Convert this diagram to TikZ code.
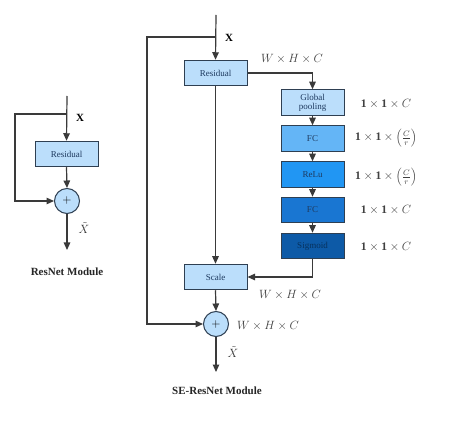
\documentclass[tikz,border=0pt]{standalone}
\usepackage{fontspec}
\setmainfont{Liberation Serif}
\usetikzlibrary{arrows.meta,positioning,calc}
\definecolor{lineC}{HTML}{3A3A3A}
\definecolor{boxD}{HTML}{2E3F52}
\definecolor{txtC}{HTML}{1E3A5F}
\definecolor{cA}{HTML}{BBDEFB}
\definecolor{cB}{HTML}{64B5F6}
\definecolor{cC}{HTML}{2196F3}
\definecolor{cD}{HTML}{1976D2}
\definecolor{cE}{HTML}{0D5AA7}
\tikzset{
  blk/.style={draw=boxD, line width=1pt, minimum width=63pt, minimum height=25.5pt, inner sep=1pt, font=\fontsize{9}{10}\selectfont, text=txtC, align=center},
  sumc/.style={circle, draw=boxD, line width=1pt, fill=cA, minimum size=25pt, inner sep=0pt, font=\fontsize{12}{12}\selectfont},
  conn/.style={draw=lineC, line width=1.2pt},
  arr/.style={conn, -{Triangle[length=7.5pt,width=6.5pt]}},
  dimlab/.style={font=\fontsize{11.5}{13}\selectfont, text=black!75, inner sep=1pt},
  xlab/.style={font=\fontsize{12.5}{13}\selectfont, text=black!80, inner sep=0.5pt},
  title/.style={font=\fontsize{11}{13}\selectfont\bfseries, text=black!85},
}
\begin{document}
\begin{tikzpicture}[x=1pt,y=-1pt]
\useasboundingbox[fill=white] (0,0) rectangle (474,422);
% ---------- ResNet module ----------
\coordinate (Ltop) at (67,96);
\coordinate (Ljn) at (67,114);
\coordinate (Lend) at (67,250);
\node[blk, fill=cA] (resL) at (66.5,154) {Residual};
\node[sumc] (sumL) at (67,201) {$+$};
\draw[arr] (Ltop) -- (resL.north);
\draw[arr] (resL.south) -- (sumL.north);
\draw[arr] (Ljn) -| (15,201) -- (sumL.west);
\draw[arr] (sumL.south) -- (Lend);
\node[font=\fontsize{11}{12}\selectfont, inner sep=1pt] (xL) at (80,118) {$\mathbf{X}$};
\node[xlab] (xtL) at (84,228) {$\tilde{X}$};
\node[title] (tL) at (67,272) {ResNet Module};
% ---------- SE-ResNet module ----------
\coordinate (Rtop) at (216,15);
\coordinate (Rjn) at (216,37);
\coordinate (Rend) at (216,372);
\node[blk, fill=cA] (resR) at (215.5,73) {Residual};
\node[blk, fill=cA] (gp) at (312.5,102.5) {Global\\[-1pt]pooling};
\node[blk, fill=cB] (fc1) at (312.5,138.5) {FC};
\node[blk, fill=cC] (relu) at (312.5,174.5) {ReLu};
\node[blk, fill=cD] (fc2) at (312.5,210) {FC};
\node[blk, fill=cE, text=cE!55!black] (sig) at (312.5,246) {Sigmoid};
\node[blk, fill=cA] (scale) at (215.5,277) {Scale};
\node[sumc] (sumR) at (216,324) {$+$};
\draw[arr] (Rtop) -- (resR.north);
\draw[arr] (resR.east) -| (gp.north);
\draw[arr] (gp) -- (fc1);
\draw[arr] (fc1) -- (relu);
\draw[arr] (relu) -- (fc2);
\draw[arr] (fc2) -- (sig);
\draw[arr] (sig.south) |- (scale.east);
\draw[arr] (resR.south) -- (scale.north);
\draw[arr] (scale.south) -- (sumR.north);
\draw[arr] (Rjn) -| (147,324) -- (sumR.west);
\draw[arr] (sumR.south) -- (Rend);
\node[font=\fontsize{11}{12}\selectfont, inner sep=1pt] (xR) at (229,38) {$\mathbf{X}$};
\node[dimlab] (d0) at (292,59) {$W\times H\times C$};
\node[dimlab] (d1) at (386,104) {$\mathbf{1}\times\mathbf{1}\times C$};
\node[dimlab] (d2) at (386,138) {$\mathbf{1}\times\mathbf{1}\times\left(\frac{C}{r}\right)$};
\node[dimlab] (d3) at (386,177) {$\mathbf{1}\times\mathbf{1}\times\left(\frac{C}{r}\right)$};
\node[dimlab] (d4) at (386,210) {$\mathbf{1}\times\mathbf{1}\times C$};
\node[dimlab] (d5) at (386,247) {$\mathbf{1}\times\mathbf{1}\times C$};
\node[dimlab] (d6) at (290,295) {$W\times H\times C$};
\node[dimlab] (d7) at (268,326) {$W\times H\times C$};
\node[xlab] (xtR) at (233,352) {$\tilde{X}$};
\node[title] (tR) at (217,391) {SE-ResNet Module};
\end{tikzpicture}
\end{document}
